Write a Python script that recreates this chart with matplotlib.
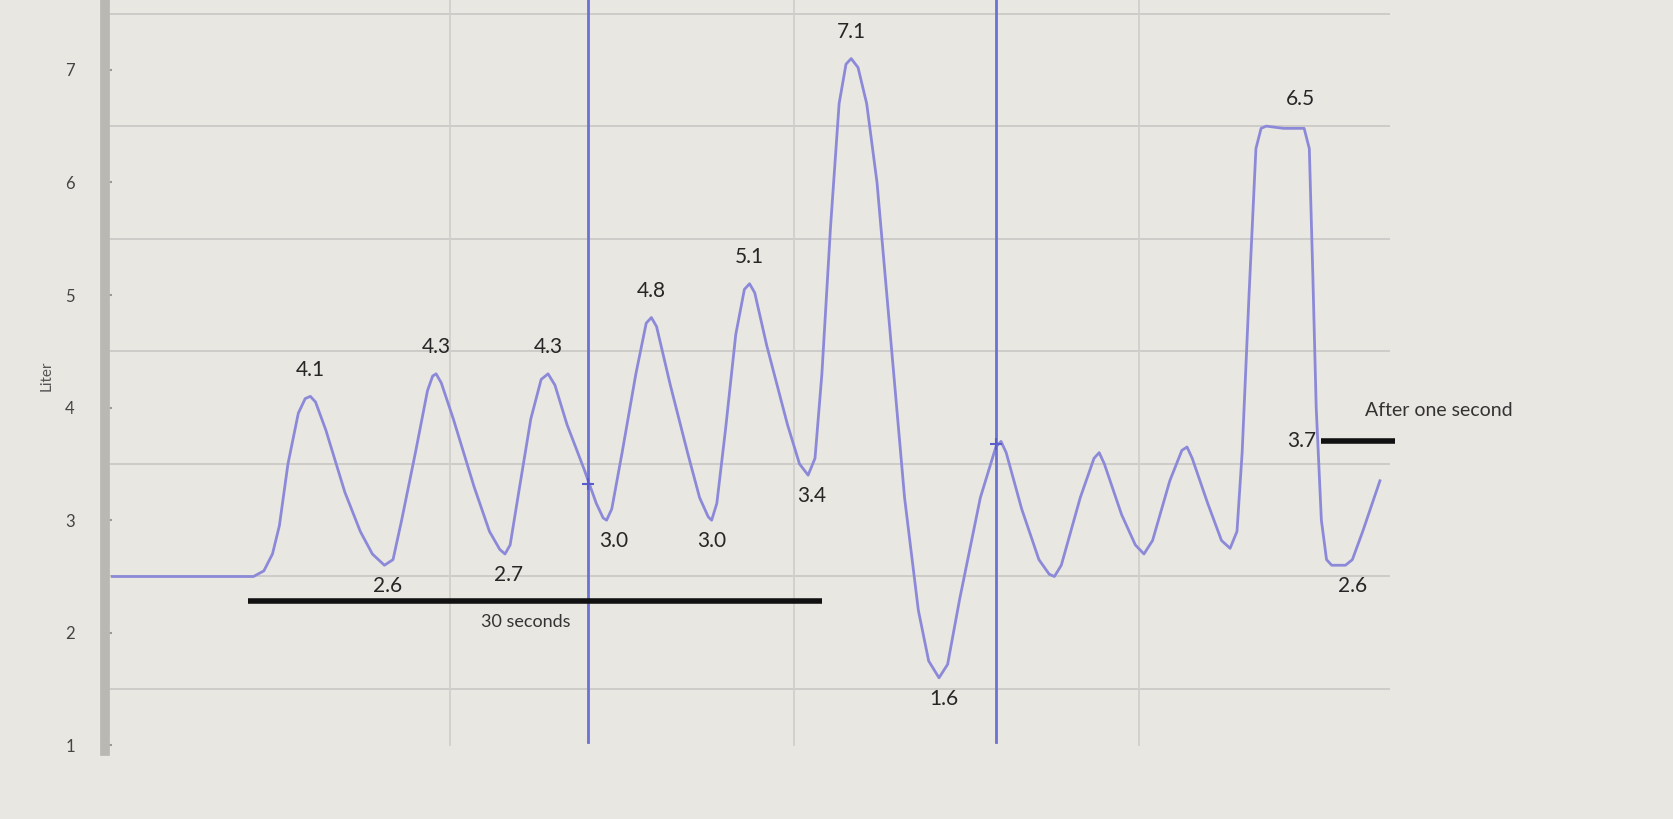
import matplotlib
matplotlib.use("Agg")
import matplotlib.pyplot as plt

plt.rcParams["font.family"] = ["Lato", "DejaVu Sans"]

# spirometer trace (x in arbitrary time units, y in liters)
trace_x = [0.2, 4.3, 4.6, 4.85, 5.05, 5.3, 5.6, 5.8, 5.95, 6.1, 6.4, 6.95, 7.4, 7.75,
           8.1, 8.35, 8.6, 9.0, 9.35, 9.5, 9.6, 9.75, 10.1, 10.7, 11.15, 11.45, 11.6,
           11.75, 12.0, 12.35, 12.65, 12.85, 13.05, 13.4, 13.9, 14.25, 14.45, 14.55,
           14.7, 15.0, 15.4, 15.7, 15.85, 16.0, 16.4, 16.9, 17.25, 17.5, 17.6, 17.75,
           18.0, 18.3, 18.55, 18.7, 18.85, 19.2, 19.8, 20.15, 20.4, 20.6, 20.8, 21.05,
           21.3, 21.5, 21.65, 21.85, 22.1, 22.4, 22.8, 23.2, 23.6, 23.9, 24.2, 24.45,
           24.8, 25.4, 25.85, 26.0, 26.15, 26.6, 27.1, 27.4, 27.55, 27.75, 28.3, 28.7,
           28.85, 29.0, 29.5, 29.9, 30.15, 30.4, 30.9, 31.25, 31.4, 31.55, 32.0, 32.4,
           32.65, 32.85, 33.0, 33.2, 33.4, 33.55, 33.7, 34.2, 34.8, 34.95, 35.05, 35.15,
           35.3, 35.45, 35.6, 36.0, 36.2, 36.5, 37.0]
trace_v = [2.5, 2.5, 2.55, 2.7, 2.95, 3.5, 3.95, 4.08, 4.1, 4.05, 3.8, 3.25, 2.9, 2.7,
           2.6, 2.65, 3.0, 3.6, 4.15, 4.28, 4.3, 4.22, 3.9, 3.3, 2.9, 2.74, 2.7,
           2.78, 3.25, 3.9, 4.25, 4.3, 4.2, 3.85, 3.45, 3.15, 3.02, 3.0,
           3.1, 3.6, 4.3, 4.75, 4.8, 4.72, 4.2, 3.6, 3.2, 3.03, 3.0, 3.15,
           3.8, 4.65, 5.05, 5.1, 5.02, 4.55, 3.85, 3.5, 3.4, 3.55, 4.3, 5.6,
           6.7, 7.05, 7.1, 7.02, 6.7, 6.0, 4.6, 3.2, 2.2, 1.75, 1.6, 1.72,
           2.3, 3.2, 3.65, 3.7, 3.6, 3.1, 2.65, 2.52, 2.5, 2.6, 3.2, 3.55,
           3.6, 3.5, 3.05, 2.78, 2.7, 2.82, 3.35, 3.62, 3.65, 3.55, 3.15, 2.82,
           2.75, 2.9, 3.6, 5.0, 6.3, 6.48, 6.5, 6.48, 6.48, 6.3, 5.2, 4.0,
           3.0, 2.65, 2.6, 2.6, 2.65, 2.9, 3.35]

# labelled extremes
peak_x = [5.95, 9.6, 12.85, 15.85, 18.7, 21.65, 34.7]
peak_v = [4.1, 4.3, 4.3, 4.8, 5.1, 7.1, 6.5]
trough_x = [8.2, 11.7, 14.75, 17.6, 20.5, 24.35, 36.2]
trough_v = [2.6, 2.7, 3.0, 3.0, 3.4, 1.6, 2.6]

marker_x = [14.0, 25.85]        # the two blue cursor lines
marker_v = [3.32, 3.68]
bar30 = (4.15, 20.8, 2.28)      # "30 seconds" bar
fev1 = 3.7                      # volume after one second

paper = "#e9e7e2"
fig = plt.figure(figsize=(16.73, 8.19), dpi=100, facecolor=paper)
ax = fig.add_axes([0.063, 0.083, 0.768, 0.917], facecolor=paper)

ax.set_xlim(0, 37.3)
ax.set_ylim(0.95, 7.62)

# paper grid
for g in [1.5, 2.5, 3.5, 4.5, 5.5, 6.5, 7.5]:
    ax.axhline(g, color="#cbcac6", lw=1.3, zorder=0)
for g in [10, 20, 30]:
    ax.plot([g, g], [1.0, 7.62], color="#d0cfcb", lw=1.3, zorder=0)

ax.plot(trace_x, trace_v, color="#8c8ad8", lw=2.0, zorder=3, solid_joinstyle="round")

for mx in marker_x:
    ax.plot([mx, mx], [1.03, 7.62], color="#6d70d4", lw=2.0, zorder=4)

# small cross where the cursors meet the trace
ax.plot(marker_x, marker_v, "+", color="#5a5ccc", ms=8, mew=1.5, zorder=5)

for x, v in zip(peak_x, peak_v):
    ax.annotate(f"{v:.1f}", (x, v), xytext=(0, 12), textcoords="offset points",
                ha="center", va="bottom", fontsize=15, color="#262626")
for x, v in zip(trough_x, trough_v):
    ax.annotate(f"{v:.1f}", (x, v), xytext=(0, -8), textcoords="offset points",
                ha="center", va="top", fontsize=15, color="#262626")

# 30 seconds bar
ax.plot([bar30[0], bar30[1]], [bar30[2], bar30[2]], color="#111111", lw=4, zorder=6,
        solid_capstyle="butt")
ax.text(12.2, 2.1, "30 seconds", ha="center", va="center", fontsize=13, color="#333333")

# FEV1 mark
ax.plot([35.3, 37.45], [fev1, fev1], color="#111111", lw=4, zorder=6,
        solid_capstyle="butt", clip_on=False)
ax.text(35.15, fev1, f"{fev1:.1f}", ha="right", va="center", fontsize=15, color="#262626")
ax.text(38.7, 3.97, "After one second", ha="center", va="center", fontsize=14,
        color="#333333", clip_on=False)

# axis
for s in ["top", "right", "bottom"]:
    ax.spines[s].set_visible(False)
ax.spines["left"].set_color("#b9b8b3")
ax.spines["left"].set_linewidth(7)
ax.set_xticks([])
ax.set_yticks([1, 2, 3, 4, 5, 6, 7])
ax.tick_params(axis="y", direction="in", length=5, width=1.5, color="#9a9a96",
               labelsize=12, labelcolor="#444444", pad=22)
ax.set_ylabel("Liter", fontsize=11, color="#555555", labelpad=8)

fig.savefig("out.png", dpi=100, facecolor=paper)
